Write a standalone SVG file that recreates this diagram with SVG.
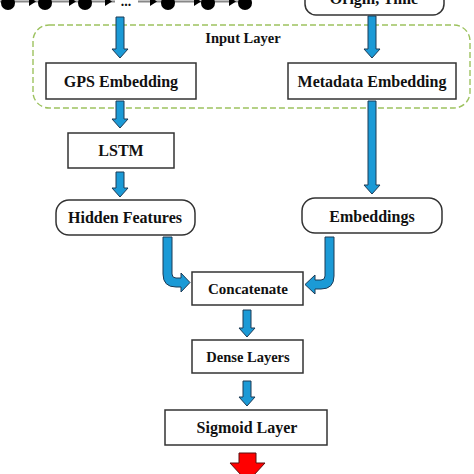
<svg xmlns="http://www.w3.org/2000/svg" width="474" height="474" viewBox="0 0 474 474">
<style>
.box{fill:#fff;stroke:#333;stroke-width:1.5}
.lbl{font-family:"Liberation Serif","Times New Roman",serif;font-weight:bold;font-size:16px;fill:#111;text-anchor:middle}
.blue{fill:#1b9ad6;stroke:#1d3a55;stroke-width:1}
.red{fill:#ff0000;stroke:#5a1010;stroke-width:1}
.chain{stroke:#888;stroke-width:2;fill:none}
.dot{fill:#000}
.ah{fill:#000}
</style>
<rect width="474" height="474" fill="#fff"/>
<g id="trajectory">
<line class="chain" x1="0" y1="1.5" x2="115" y2="1.5"/>
<line class="chain" x1="138" y1="1.5" x2="246" y2="1.5"/>
<circle class="dot" cx="8" cy="3" r="7"/>
<circle class="dot" cx="45" cy="3" r="7"/>
<circle class="dot" cx="85" cy="3" r="7"/>
<circle class="dot" cx="168" cy="3" r="7"/>
<circle class="dot" cx="208" cy="3" r="7"/>
<circle class="dot" cx="245" cy="3" r="7"/>
<path class="ah" d="M29,-3 L36,1.5 L29,6 Z"/>
<path class="ah" d="M69,-3 L76,1.5 L69,6 Z"/>
<path class="ah" d="M105,-3 L112,1.5 L105,6 Z"/>
<path class="ah" d="M150,-3 L157,1.5 L150,6 Z"/>
<path class="ah" d="M194,-3 L201,1.5 L194,6 Z"/>
<path class="ah" d="M229,-3 L236,1.5 L229,6 Z"/>
<text class="lbl" x="126" y="6" style="font-size:14px">...</text>
</g>
<g id="origin-time">
<rect class="box" x="305" y="-30" width="139" height="45" rx="11"/>
<text class="lbl" x="374" y="4">Origin, Time</text>
</g>
<g id="input-layer">
<rect x="33" y="25" width="437" height="83" rx="16" fill="none" stroke="#9dc25f" stroke-width="1.4" stroke-dasharray="6,3"/>
<text class="lbl" x="243" y="43" style="font-size:14.5px">Input Layer</text>
</g>
<g id="gps-embedding">
<rect class="box" x="46" y="63" width="150" height="36"/>
<text class="lbl" x="121" y="87">GPS Embedding</text>
</g>
<g id="metadata-embedding">
<rect class="box" x="288" y="63" width="168" height="36"/>
<text class="lbl" x="372" y="87">Metadata Embedding</text>
</g>
<g id="lstm">
<rect class="box" x="68" y="133" width="106" height="35"/>
<text class="lbl" x="121" y="156">LSTM</text>
</g>
<g id="hidden-features">
<rect class="box" x="56" y="200" width="139" height="35" rx="13"/>
<text class="lbl" x="125" y="223">Hidden Features</text>
</g>
<g id="embeddings">
<rect class="box" x="302" y="198" width="140" height="35" rx="13"/>
<text class="lbl" x="372" y="222">Embeddings</text>
</g>
<g id="concatenate">
<rect class="box" x="192" y="272" width="111" height="33"/>
<text class="lbl" x="248" y="294" style="font-size:15px">Concatenate</text>
</g>
<g id="dense-layers">
<rect class="box" x="192" y="340" width="111" height="33"/>
<text class="lbl" x="248" y="362" style="font-size:14.5px">Dense Layers</text>
</g>
<g id="sigmoid-layer">
<rect class="box" x="165" y="410" width="162" height="35"/>
<text class="lbl" x="247" y="433">Sigmoid Layer</text>
</g>
<g id="connectors">
<path class="blue" d="M116,17 L124,17 L124,49 L128,49 L120,58 L112,49 L116,49 Z"/>
<path class="blue" d="M368,16 L376,16 L376,49 L380,49 L372,58 L364,49 L368,49 Z"/>
<path class="blue" d="M116,101 L124,101 L124,119 L128,119 L120,128 L112,119 L116,119 Z"/>
<path class="blue" d="M116,172 L124,172 L124,188 L128,188 L120,197 L112,188 L116,188 Z"/>
<path class="blue" d="M368,101 L376,101 L376,185 L380,185 L372,194 L364,185 L368,185 Z"/>
<path class="blue" d="M163,237 L163,274 Q163,287 176,287 L181,287 L181,292 L190,282.5 L181,273 L181,278 L176,278 Q172,278 172,274 L172,237 Z"/>
<path class="blue" d="M334,237 L334,276 Q334,289 321,289 L315,289 L315,294 L305,284.5 L315,275 L315,280 L321,280 Q325,280 325,276 L325,237 Z"/>
<path class="blue" d="M243,310 L251,310 L251,328 L255,328 L247,337 L239,328 L243,328 Z"/>
<path class="blue" d="M243,381 L251,381 L251,397 L255,397 L247,406 L239,397 L243,397 Z"/>
<path class="red" d="M239,453 L256,453 L256,463 L265,463 L247.5,482 L230,463 L239,463 Z"/>
</g>
</svg>
